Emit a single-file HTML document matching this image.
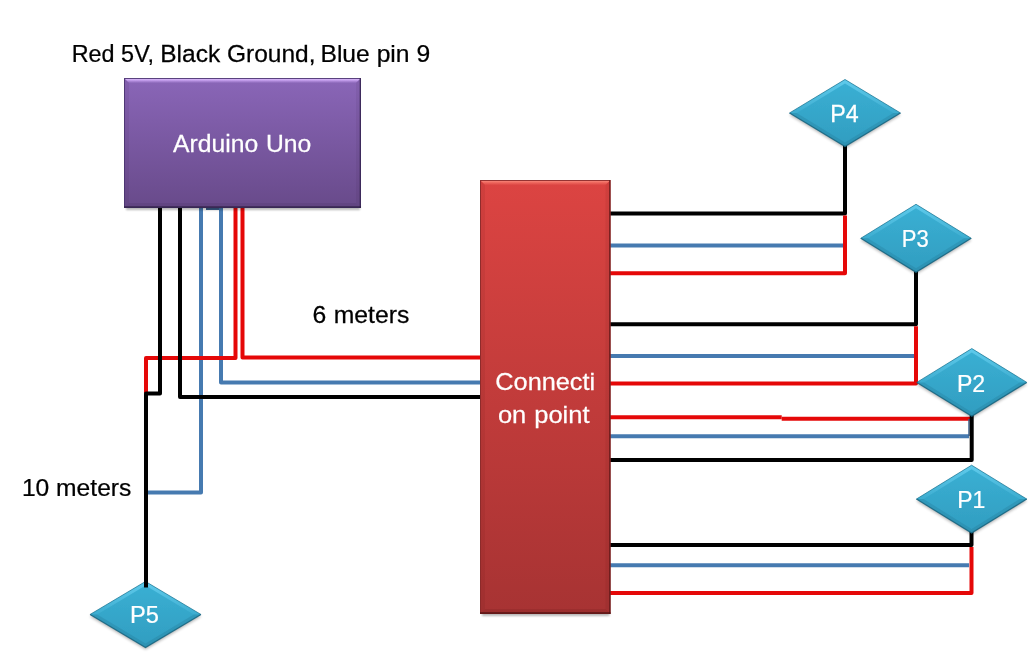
<!DOCTYPE html>
<html><head><meta charset="utf-8"><title>Wiring diagram</title>
<style>
html,body{margin:0;padding:0;background:#ffffff;width:1035px;height:658px;overflow:hidden}
svg{display:block;font-family:"Liberation Sans",sans-serif}
</style></head><body>
<svg width="1035" height="658" viewBox="0 0 1035 658">
<defs>
<linearGradient id="gpur" x1="0" y1="0" x2="0" y2="1">
 <stop offset="0" stop-color="#8a66b8"/><stop offset="1" stop-color="#684a8a"/>
</linearGradient>
<linearGradient id="gred" x1="0" y1="0" x2="0" y2="1">
 <stop offset="0" stop-color="#dc4442"/><stop offset="1" stop-color="#a73333"/>
</linearGradient>
<linearGradient id="gdia" x1="0" y1="0" x2="0" y2="1">
 <stop offset="0" stop-color="#3ab0d4"/><stop offset="1" stop-color="#319dc0"/>
</linearGradient>
<linearGradient id="gdiatop" x1="0" y1="0" x2="0" y2="1">
 <stop offset="0" stop-color="#7fe0ff" stop-opacity="0.55"/><stop offset="1" stop-color="#7fe0ff" stop-opacity="0.1"/>
</linearGradient>
<linearGradient id="gpurtop" x1="0" y1="0" x2="0" y2="1">
 <stop offset="0" stop-color="#ecd0ff" stop-opacity="1"/><stop offset="0.45" stop-color="#d8b2ff" stop-opacity="0.75"/><stop offset="1" stop-color="#c8a0f0" stop-opacity="0.05"/>
</linearGradient>
<linearGradient id="gredtop" x1="0" y1="0" x2="0" y2="1">
 <stop offset="0" stop-color="#ffa898" stop-opacity="0.9"/><stop offset="0.45" stop-color="#ff8878" stop-opacity="0.6"/><stop offset="1" stop-color="#ff8070" stop-opacity="0.05"/>
</linearGradient>
<filter id="bsh" x="-10%" y="-200%" width="120%" height="500%">
 <feGaussianBlur stdDeviation="1.2"/>
</filter>
<filter id="dsh" x="-10%" y="-10%" width="120%" height="130%">
 <feGaussianBlur in="SourceAlpha" stdDeviation="1.5"/>
 <feOffset dx="0" dy="2" result="ob"/>
 <feComponentTransfer><feFuncA type="linear" slope="0.3"/></feComponentTransfer>
 <feMerge><feMergeNode/><feMergeNode in="SourceGraphic"/></feMerge>
</filter>
</defs>
<rect x="0" y="0" width="1035" height="658" fill="#ffffff"/>
<polyline points="201,208 201,492.5 144,492.5" fill="none" stroke="#467AB0" stroke-width="4" stroke-linejoin="round" stroke-linecap="butt"/>
<polyline points="221,208 221,382.5 482,382.5" fill="none" stroke="#467AB0" stroke-width="4" stroke-linejoin="round" stroke-linecap="butt"/>
<line x1="206" y1="209" x2="219" y2="209" stroke="#3c5f8a" stroke-width="2"/>
<polyline points="235.5,208 235.5,358 146,358 146,393" fill="none" stroke="#E50808" stroke-width="4" stroke-linejoin="round" stroke-linecap="butt"/>
<polyline points="242.5,208 242.5,357.5 482,357.5" fill="none" stroke="#E50808" stroke-width="4" stroke-linejoin="round" stroke-linecap="butt"/>
<polyline points="160,208 160,393.5 146,393.5 146,560" fill="none" stroke="#000000" stroke-width="4" stroke-linejoin="round" stroke-linecap="butt"/>
<polyline points="180,208 180,397 482,397" fill="none" stroke="#000000" stroke-width="4" stroke-linejoin="round" stroke-linecap="butt"/>
<polyline points="608,213.5 845,213.5 845,140" fill="none" stroke="#000000" stroke-width="4" stroke-linejoin="round" stroke-linecap="butt"/>
<polyline points="608,245.5 843,245.5" fill="none" stroke="#467AB0" stroke-width="4" stroke-linejoin="round" stroke-linecap="butt"/>
<polyline points="608,273.3 845,273.3 845,215.5" fill="none" stroke="#E50808" stroke-width="4" stroke-linejoin="round" stroke-linecap="butt"/>
<polyline points="608,324.2 916,324.2 916,265" fill="none" stroke="#000000" stroke-width="4" stroke-linejoin="round" stroke-linecap="butt"/>
<polyline points="608,356 914,356" fill="none" stroke="#467AB0" stroke-width="4" stroke-linejoin="round" stroke-linecap="butt"/>
<polyline points="608,383.5 916,383.5 916,326.2" fill="none" stroke="#E50808" stroke-width="4" stroke-linejoin="round" stroke-linecap="butt"/>
<polyline points="608,417.2 781.7,417.2" fill="none" stroke="#E50808" stroke-width="4" stroke-linejoin="round" stroke-linecap="butt"/>
<polyline points="781.7,418.7 970,418.7" fill="none" stroke="#E50808" stroke-width="4" stroke-linejoin="round" stroke-linecap="butt"/>
<polyline points="608,436.2 969,436.2" fill="none" stroke="#467AB0" stroke-width="4" stroke-linejoin="round" stroke-linecap="butt"/>
<line x1="969" y1="419" x2="969" y2="436" stroke="#3c5f8a" stroke-width="1.5"/>
<polyline points="608,460.1 971.7,460.1 971.7,410" fill="none" stroke="#000000" stroke-width="4" stroke-linejoin="round" stroke-linecap="butt"/>
<polyline points="608,545 971.5,545 971.5,525" fill="none" stroke="#000000" stroke-width="4" stroke-linejoin="round" stroke-linecap="butt"/>
<polyline points="608,565.2 969,565.2" fill="none" stroke="#467AB0" stroke-width="4" stroke-linejoin="round" stroke-linecap="butt"/>
<polyline points="608,593 971.5,593 971.5,547" fill="none" stroke="#E50808" stroke-width="4" stroke-linejoin="round" stroke-linecap="butt"/>
<rect x="126" y="205" width="234" height="5" fill="#000" opacity="0.28" filter="url(#bsh)"/>
<rect x="124" y="78" width="237" height="130" fill="url(#gpur)"/>
<polygon points="124,78 361,78 356,83 129,83" fill="url(#gpurtop)"/>
<polygon points="124,78 129,83 129,203 124,208" fill="#2e1f45" opacity="0.08"/>
<polygon points="361,78 356,83 356,203 361,208" fill="#2e1f45" opacity="0.08"/>
<polygon points="124,208 129,203 356,203 361,208" fill="#2e1f45" opacity="0.12"/>
<rect x="124.5" y="78.5" width="236" height="129" fill="none" stroke="#4a3470" stroke-width="1" opacity="0.9"/>
<line x1="124" y1="207" x2="361" y2="207" stroke="#2e1f45" stroke-width="2" opacity="0.6"/>
<line x1="360.25" y1="78" x2="360.25" y2="208" stroke="#2e1f45" stroke-width="1.5" opacity="0.5"/>
<text opacity="0.999" transform="translate(173.07,152.00) scale(1.0080,1)" font-size="24.5" fill="#ffffff" stroke="#ffffff" stroke-width="0.25">Arduino</text>
<text opacity="0.999" transform="translate(265.96,152.00) scale(1.0080,1)" font-size="24.5" fill="#ffffff" stroke="#ffffff" stroke-width="0.25">Uno</text>
<rect x="482" y="611" width="127.5" height="5" fill="#000" opacity="0.28" filter="url(#bsh)"/>
<rect x="480" y="180" width="130.5" height="434" fill="url(#gred)"/>
<polygon points="480,180 610.5,180 605.5,185 485,185" fill="url(#gredtop)"/>
<polygon points="480,180 485,185 485,609 480,614" fill="#4a1010" opacity="0.08"/>
<polygon points="610.5,180 605.5,185 605.5,609 610.5,614" fill="#4a1010" opacity="0.08"/>
<polygon points="480,614 485,609 605.5,609 610.5,614" fill="#4a1010" opacity="0.12"/>
<rect x="480.5" y="180.5" width="129.5" height="433" fill="none" stroke="#8a2a2a" stroke-width="1" opacity="0.9"/>
<line x1="480" y1="613" x2="610.5" y2="613" stroke="#4a1010" stroke-width="2" opacity="0.6"/>
<line x1="609.75" y1="180" x2="609.75" y2="614" stroke="#4a1010" stroke-width="1.5" opacity="0.5"/>
<text opacity="0.999" transform="translate(495.34,389.60) scale(1.0316,1)" font-size="24.5" fill="#ffffff" stroke="#ffffff" stroke-width="0.25">Connecti</text>
<text opacity="0.999" transform="translate(497.96,422.60) scale(1.0400,1)" font-size="24.5" fill="#ffffff" stroke="#ffffff" stroke-width="0.25">on</text>
<text opacity="0.999" transform="translate(534.29,422.60) scale(1.0400,1)" font-size="24.5" fill="#ffffff" stroke="#ffffff" stroke-width="0.25">point</text>
<g filter="url(#dsh)"><polygon points="845,79.5 900.5,113 845,146.5 789.5,113" fill="url(#gdia)"/></g>
<polygon points="789.5,113 845,79.5 900.5,113 893.3,113 845,83.5 796.7,113" fill="url(#gdiatop)"/>
<polygon points="789.5,113 845,146.5 900.5,113 893.3,113 845,142.5 796.7,113" fill="#1f6f8a" opacity="0.25"/>
<polyline points="789.5,113 845,79.5 900.5,113" fill="none" stroke="#1f7896" stroke-width="1" opacity="0.75"/>
<polyline points="789.5,113 845,146.5 900.5,113" fill="none" stroke="#16607a" stroke-width="1.2" opacity="0.85"/>
<text opacity="0.999" transform="translate(830.14,122.00) scale(0.9487,1)" font-size="24.5" fill="#ffffff" stroke="#ffffff" stroke-width="0.25">P4</text>
<g filter="url(#dsh)"><polygon points="916,204.3 971.25,238.3 916,272.3 860.75,238.3" fill="url(#gdia)"/></g>
<polygon points="860.75,238.3 916,204.3 971.25,238.3 964.05,238.3 916,208.3 867.95,238.3" fill="url(#gdiatop)"/>
<polygon points="860.75,238.3 916,272.3 971.25,238.3 964.05,238.3 916,268.3 867.95,238.3" fill="#1f6f8a" opacity="0.25"/>
<polyline points="860.75,238.3 916,204.3 971.25,238.3" fill="none" stroke="#1f7896" stroke-width="1" opacity="0.75"/>
<polyline points="860.75,238.3 916,272.3 971.25,238.3" fill="none" stroke="#16607a" stroke-width="1.2" opacity="0.85"/>
<text opacity="0.999" transform="translate(901.74,247.40) scale(0.8980,1)" font-size="24.5" fill="#ffffff" stroke="#ffffff" stroke-width="0.25">P3</text>
<g filter="url(#dsh)"><polygon points="971.8,348.59999999999997 1026.8,382.4 971.8,416.2 916.8,382.4" fill="url(#gdia)"/></g>
<polygon points="916.8,382.4 971.8,348.59999999999997 1026.8,382.4 1019.5999999999999,382.4 971.8,352.59999999999997 924.0,382.4" fill="url(#gdiatop)"/>
<polygon points="916.8,382.4 971.8,416.2 1026.8,382.4 1019.5999999999999,382.4 971.8,412.2 924.0,382.4" fill="#1f6f8a" opacity="0.25"/>
<polyline points="916.8,382.4 971.8,348.59999999999997 1026.8,382.4" fill="none" stroke="#1f7896" stroke-width="1" opacity="0.75"/>
<polyline points="916.8,382.4 971.8,416.2 1026.8,382.4" fill="none" stroke="#16607a" stroke-width="1.2" opacity="0.85"/>
<text opacity="0.999" transform="translate(956.95,391.90) scale(0.9436,1)" font-size="24.5" fill="#ffffff" stroke="#ffffff" stroke-width="0.25">P2</text>
<g filter="url(#dsh)"><polygon points="971.6,465.20000000000005 1026.8,499.1 971.6,533.0 916.4,499.1" fill="url(#gdia)"/></g>
<polygon points="916.4,499.1 971.6,465.20000000000005 1026.8,499.1 1019.5999999999999,499.1 971.6,469.20000000000005 923.6,499.1" fill="url(#gdiatop)"/>
<polygon points="916.4,499.1 971.6,533.0 1026.8,499.1 1019.5999999999999,499.1 971.6,529.0 923.6,499.1" fill="#1f6f8a" opacity="0.25"/>
<polyline points="916.4,499.1 971.6,465.20000000000005 1026.8,499.1" fill="none" stroke="#1f7896" stroke-width="1" opacity="0.75"/>
<polyline points="916.4,499.1 971.6,533.0 1026.8,499.1" fill="none" stroke="#16607a" stroke-width="1.2" opacity="0.85"/>
<text opacity="0.999" transform="translate(957.17,508.20) scale(0.9362,1)" font-size="24.5" fill="#ffffff" stroke="#ffffff" stroke-width="0.25">P1</text>
<g filter="url(#dsh)"><polygon points="145.5,581.5 201.0,614.5 145.5,647.5 90.0,614.5" fill="url(#gdia)"/></g>
<polygon points="90.0,614.5 145.5,581.5 201.0,614.5 193.8,614.5 145.5,585.5 97.2,614.5" fill="url(#gdiatop)"/>
<polygon points="90.0,614.5 145.5,647.5 201.0,614.5 193.8,614.5 145.5,643.5 97.2,614.5" fill="#1f6f8a" opacity="0.25"/>
<polyline points="90.0,614.5 145.5,581.5 201.0,614.5" fill="none" stroke="#1f7896" stroke-width="1" opacity="0.75"/>
<polyline points="90.0,614.5 145.5,647.5 201.0,614.5" fill="none" stroke="#16607a" stroke-width="1.2" opacity="0.85"/>
<text opacity="0.999" transform="translate(130.11,622.80) scale(0.9647,1)" font-size="24.5" fill="#ffffff" stroke="#ffffff" stroke-width="0.25">P5</text>
<polyline points="146,555 146,587.5" fill="none" stroke="#000000" stroke-width="4" stroke-linejoin="round" stroke-linecap="butt"/>
<text opacity="0.999" transform="translate(71.73,62.00) scale(0.9552,1)" font-size="24.5" fill="#000000" stroke="#000000" stroke-width="0.25">Red 5V,</text>
<text opacity="0.999" transform="translate(160.24,62.00) scale(1.0002,1)" font-size="24.5" fill="#000000" stroke="#000000" stroke-width="0.25">Black Ground,</text>
<text opacity="0.999" transform="translate(320.43,62.00) scale(1.0072,1)" font-size="24.5" fill="#000000" stroke="#000000" stroke-width="0.25">Blue pin 9</text>
<text opacity="0.999" transform="translate(312.47,322.70) scale(1.0100,1)" font-size="24.5" fill="#000000" stroke="#000000" stroke-width="0.25">6</text>
<text opacity="0.999" transform="translate(333.67,322.70) scale(1.0100,1)" font-size="24.5" fill="#000000" stroke="#000000" stroke-width="0.25">meters</text>
<text opacity="0.999" transform="translate(21.89,495.80) scale(1.0050,1)" font-size="24.5" fill="#000000" stroke="#000000" stroke-width="0.25">10</text>
<text opacity="0.999" transform="translate(56.11,495.80) scale(1.0050,1)" font-size="24.5" fill="#000000" stroke="#000000" stroke-width="0.25">meters</text>
</svg>
</body></html>
